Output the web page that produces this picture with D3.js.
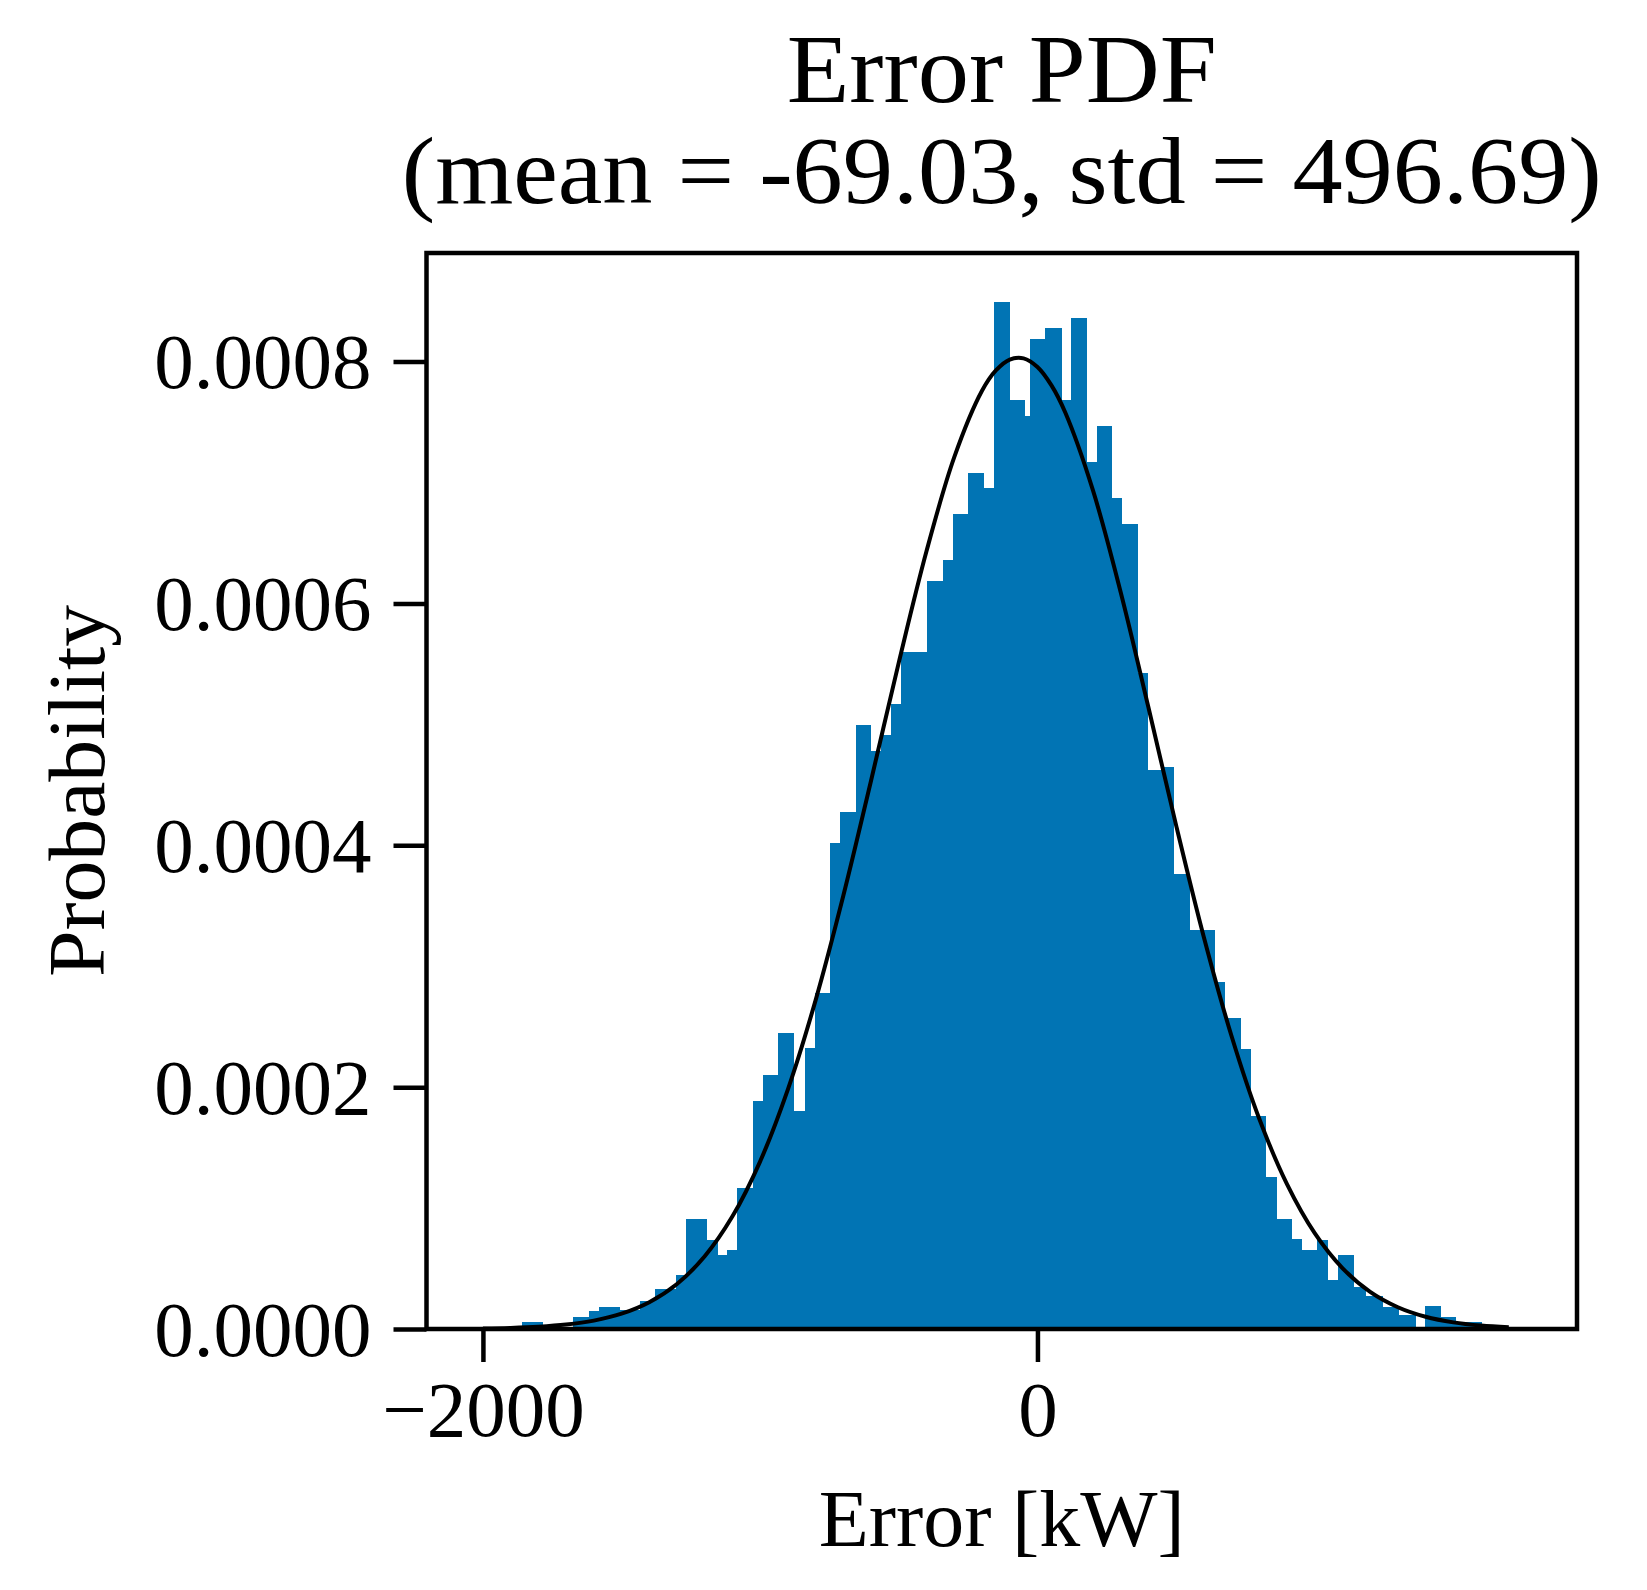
<!DOCTYPE html>
<html>
<head>
<meta charset="utf-8">
<script src="https://cdn.jsdelivr.net/npm/d3@7"></script>
<style>
  body { margin: 0; background: #fff; }
  text { font-family: 'Liberation Serif', 'DejaVu Serif', serif; fill: #000; }
</style>
</head>
<body>
<script>
// histogram bin edges [kW]
var binEdges = [-1860, -1786, -1675, -1618, -1581, -1509, -1434, -1380, -1305, -1269,
    -1194, -1156, -1120, -1083, -1026, -990, -935, -880, -840, -804,
    -750, -712, -656, -602, -564, -528, -492, -398, -342, -306,
    -249, -194, -156, -102, -47, -27, 28, 85, 121, 175,
    213, 268, 304, 361, 397, 451, 489, 547, 637, 675,
    731, 767, 823, 861, 917, 953, 1009, 1045, 1084, 1138,
    1183, 1243, 1303, 1364, 1397, 1454, 1508, 1603];

// probability density of each bin
var density = [0.0000062, 0, 0.0000103, 0.0000150, 0.0000186, 0.0000157, 0.0000232, 0.0000331, 0.0000447,
    0.0000910, 0.0000736, 0.0000612, 0.0000653, 0.0001166, 0.0001889, 0.0002100, 0.0002448, 0.0001803,
    0.0002324, 0.0002782, 0.0004019, 0.0004275, 0.0004994, 0.0004783, 0.0004912, 0.0005168, 0.0005594,
    0.0006189, 0.0006359, 0.0006739, 0.0007082, 0.0006958, 0.0008488, 0.0007678, 0.0007549, 0.0008186,
    0.0008277, 0.0007678, 0.0008360, 0.0007169, 0.0007467, 0.0006871, 0.0006656, 0.0005424, 0.0004622,
    0.0004651, 0.0003762, 0.0003299, 0.0002869, 0.0002572, 0.0002315, 0.0001761, 0.0001257, 0.0000910,
    0.0000744, 0.0000653, 0.0000736, 0.0000405, 0.0000612, 0.0000351, 0.0000269, 0.0000186, 0.0000116,
    0, 0.0000190, 0.0000103, 0.0000062];

// fitted normal curve, read at sample points
var curveX = [-2000, -1900, -1800, -1700, -1600, -1500, -1400, -1300, -1200, -1100,
    -1000, -900, -800, -700, -600, -500, -400, -300, -200, -150, -100, -50,
    0, 50, 100, 200, 300, 400, 500, 600, 700, 800, 900,
    1000, 1100, 1200, 1300, 1400, 1500, 1600, 1700];
var curvePdf = [0.00000042, 0.0000009, 0.00000185, 0.00000366, 0.00000695, 0.00001267, 0.00002216, 0.00003725, 0.00006012, 0.00009315,
    0.00013865, 0.00019816, 0.00027197, 0.00035842, 0.00045358, 0.00055124, 0.00064329, 0.00072088, 0.00077575, 0.00079259, 0.00080163, 0.0008026,
    0.00079547, 0.00078045, 0.000758, 0.0006936, 0.00060945, 0.00051427, 0.00041666, 0.0003242, 0.00024225, 0.0001738, 0.00011976,
    0.00007924, 0.00005033, 0.00003071, 0.000018, 0.00001012, 0.00000547, 0.00000284, 0.00000141];

var xTicks = [-2000, 0];
var yTicks = [0, 0.0002, 0.0004, 0.0006, 0.0008];
var titleLines = ['Error PDF', '(mean = -69.03, std = 496.69)'];
var xLabel = 'Error [kW]';
var yLabel = 'Probability';

var canvasWidth = 1647;
var canvasHeight = 1590;
var plotLeft = 426.5, plotRight = 1577, plotTop = 253, plotBottom = 1329;

var svg = d3.select('body')
    .append('svg')
    .attr('width', canvasWidth)
    .attr('height', canvasHeight);

var xScale = d3.scaleLinear()
    .domain([-2203.5, 1946])
    .range([plotLeft, plotRight]);
var yScale = d3.scaleLinear()
    .domain([0, 0.0008 * (plotBottom - plotTop) / 967.5])
    .range([plotBottom, plotTop]);

var bins = density.map(function (d, i) {
    return { x0: binEdges[i], x1: binEdges[i + 1], v: d };
});

// bars
svg.append('g')
    .attr('shape-rendering', 'crispEdges')
    .selectAll('rect')
    .data(bins)
    .enter()
    .append('rect')
    .attr('x', function (d) { return xScale(d.x0); })
    .attr('width', function (d) { return xScale(d.x1) - xScale(d.x0) + 0.6; })
    .attr('y', function (d) { return yScale(d.v); })
    .attr('height', function (d) { return yScale(0) - yScale(d.v); })
    .attr('fill', '#0174b4');

// normal pdf line
svg.append('path')
    .datum(curveX.map(function (x, i) { return [x, curvePdf[i]]; }))
    .attr('fill', 'none')
    .attr('stroke', '#000')
    .attr('stroke-width', 4)
    .attr('d', d3.line()
        .x(function (d) { return xScale(d[0]); })
        .y(function (d) { return yScale(d[1]); })
        .curve(d3.curveCatmullRom));

// x axis
var xAxis = svg.append('g')
    .attr('transform', 'translate(0,' + plotBottom + ')')
    .call(d3.axisBottom(xScale).tickValues(xTicks).tickSize(33).tickFormat(d3.format('d')));
xAxis.select('.domain').remove();
xAxis.selectAll('line').attr('stroke', '#000').attr('stroke-width', 4.5);
xAxis.selectAll('text')
    .attr('y', 107)
    .attr('dy', null)
    .attr('font-size', '79px')
    .attr('font-family', "'Liberation Serif', serif")
    .attr('fill', '#000');

// y axis
var yAxis = svg.append('g')
    .attr('transform', 'translate(' + plotLeft + ',0)')
    .call(d3.axisLeft(yScale).tickValues(yTicks).tickSize(33).tickPadding(22).tickFormat(d3.format('.4f')));
yAxis.select('.domain').remove();
yAxis.selectAll('line').attr('stroke', '#000').attr('stroke-width', 4.5);
yAxis.selectAll('text')
    .attr('dy', '0.33em')
    .attr('font-size', '79px')
    .attr('font-family', "'Liberation Serif', serif")
    .attr('fill', '#000');

// frame
svg.append('rect')
    .attr('x', plotLeft)
    .attr('y', plotTop)
    .attr('width', plotRight - plotLeft)
    .attr('height', plotBottom - plotTop)
    .attr('fill', 'none')
    .attr('stroke', '#000')
    .attr('stroke-width', 4.5);

// title
var midX = (plotLeft + plotRight) / 2;
svg.append('text')
    .attr('x', midX)
    .attr('y', 102)
    .attr('text-anchor', 'middle')
    .attr('font-size', '97px')
    .attr('textLength', 430)
    .attr('lengthAdjust', 'spacingAndGlyphs')
    .text(titleLines[0]);
svg.append('text')
    .attr('x', midX)
    .attr('y', 203)
    .attr('text-anchor', 'middle')
    .attr('font-size', '95px')
    .attr('textLength', 1200)
    .attr('lengthAdjust', 'spacingAndGlyphs')
    .text(titleLines[1]);

// axis labels
svg.append('text')
    .attr('x', midX)
    .attr('y', 1546)
    .attr('text-anchor', 'middle')
    .attr('font-size', '80px')
    .attr('textLength', 366)
    .attr('lengthAdjust', 'spacingAndGlyphs')
    .text(xLabel);
svg.append('text')
    .attr('transform', 'translate(104,' + (plotTop + plotBottom) / 2 + ') rotate(-90)')
    .attr('text-anchor', 'middle')
    .attr('font-size', '80px')
    .attr('textLength', 372)
    .attr('lengthAdjust', 'spacingAndGlyphs')
    .text(yLabel);
</script>
</body>
</html>
